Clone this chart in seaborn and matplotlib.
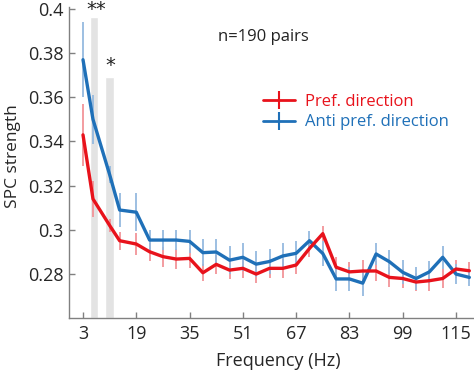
import matplotlib
matplotlib.use("Agg")
import matplotlib.pyplot as plt
import seaborn as sns
from matplotlib.lines import Line2D

# data
freqs = [3, 6, 11, 14, 19, 23, 27, 31, 35, 39, 43, 47, 51, 55, 59,
         63, 67, 71, 75, 79, 83, 87, 91, 95, 99, 103, 107, 111, 115, 119]

pref = [0.343, 0.314, 0.302, 0.2951, 0.2936, 0.2901, 0.2879, 0.2868, 0.2871, 0.2806,
        0.2844, 0.2818, 0.2826, 0.2800, 0.2826, 0.2826, 0.2841, 0.2916, 0.2983, 0.2831,
        0.2810, 0.2814, 0.2814, 0.2785, 0.2780, 0.2764, 0.2770, 0.2780, 0.2823, 0.2815]
pref_err = [0.014, 0.0083, 0.003, 0.004, 0.005, 0.004, 0.0045, 0.0045, 0.0045, 0.0038,
            0.0042, 0.0042, 0.0042, 0.0042, 0.0042, 0.0042, 0.0042, 0.004, 0.0035, 0.0045,
            0.0045, 0.0048, 0.0045, 0.0045, 0.0045, 0.0042, 0.0045, 0.0042, 0.0042, 0.004]

anti = [0.377, 0.350, 0.325, 0.309, 0.308, 0.2954, 0.2954, 0.2954, 0.2948, 0.2897,
        0.2900, 0.2863, 0.2876, 0.2845, 0.2857, 0.2882, 0.2894, 0.2951, 0.2893, 0.2778,
        0.2778, 0.2759, 0.2891, 0.2856, 0.2808, 0.2780, 0.2810, 0.2876, 0.2800, 0.2785]
anti_err = [0.017, 0.011, 0.004, 0.0077, 0.0087, 0.0045, 0.0045, 0.0045, 0.0053, 0.006,
            0.006, 0.0062, 0.0063, 0.006, 0.0058, 0.0057, 0.0057, 0.0045, 0.0055, 0.0053,
            0.0055, 0.006, 0.0049, 0.0055, 0.0055, 0.005, 0.005, 0.0053, 0.0045, 0.004]

# significance bars
sig_freqs = [6.4, 11]
sig_tops = [0.3963, 0.369]
sig_labels = ["**", "*"]
star_x = [6.9, 11.2]
star_y = [0.3996, 0.3742]

red = "#E8121B"
blue = "#1F70B8"

sns.set_style("ticks")
plt.rcParams["font.family"] = ["Open Sans", "DejaVu Sans"]

fig = plt.figure(figsize=(4.74, 3.72), dpi=100)
ax = fig.add_axes([0.1456, 0.1444, 0.8544, 0.8376])

ymin = 0.26
ax.bar(sig_freqs, [t - ymin for t in sig_tops], bottom=ymin, width=2.5,
       color="#E3E3E3", zorder=0)

ax.errorbar(freqs, pref, yerr=pref_err, fmt="none", ecolor="#F29498",
            elinewidth=1.3, zorder=1)
ax.errorbar(freqs, anti, yerr=anti_err, fmt="none", ecolor="#95BADF",
            elinewidth=1.3, zorder=1)
sns.lineplot(x=freqs, y=pref, color=red, lw=2.4, ax=ax, zorder=3)
sns.lineplot(x=freqs, y=anti, color=blue, lw=2.4, ax=ax, zorder=2)

for sx, sy, lab in zip(star_x, star_y, sig_labels):
    ax.text(sx, sy, lab, ha="center", va="center", fontsize=14,
            family=["DejaVu Sans"], color="#222222")

ax.text(43.5, 0.3873, "n=190 pairs", ha="left", va="center", fontsize=12,
        color="#222222")

handles = [Line2D([0], [0], color=red, lw=2, marker="|", markersize=13, mew=1.5),
           Line2D([0], [0], color=blue, lw=2, marker="|", markersize=13, mew=1.5)]
leg = ax.legend(handles, ["Pref. direction", "Anti pref. direction"],
                loc="center left", bbox_to_anchor=(263 / 474, 1 - 112 / 372),
                bbox_transform=fig.transFigure, frameon=False, fontsize=12,
                handlelength=1.9, handletextpad=0.6, labelspacing=0.3,
                borderpad=0, borderaxespad=0, numpoints=1)
for txt, c in zip(leg.get_texts(), [red, blue]):
    txt.set_color(c)

ax.set_xlim(-1.2, 120.4)
ax.set_ylim(ymin, 0.401)
ax.set_xticks([3, 19, 35, 51, 67, 83, 99, 115])
ax.set_yticks([0.28, 0.3, 0.32, 0.34, 0.36, 0.38, 0.4])
ax.set_yticklabels(["0.28", "0.3", "0.32", "0.34", "0.36", "0.38", "0.4"])
ax.tick_params(direction="in", length=4, width=1, colors="#808080",
               labelcolor="#262626", labelsize=13)
ax.tick_params(axis="x", pad=5)
ax.tick_params(axis="y", pad=4)
for s in ["left", "bottom"]:
    ax.spines[s].set_color("#808080")
    ax.spines[s].set_linewidth(1)
sns.despine(ax=ax)

ax.set_xlabel("Frequency (Hz)", fontsize=13, color="#262626")
ax.set_ylabel("SPC strength", fontsize=12.5, color="#262626")
ax.xaxis.set_label_coords(0.517, -0.108)
ax.yaxis.set_label_coords(-0.118, 0.52)

fig.savefig("out.png", dpi=100)
